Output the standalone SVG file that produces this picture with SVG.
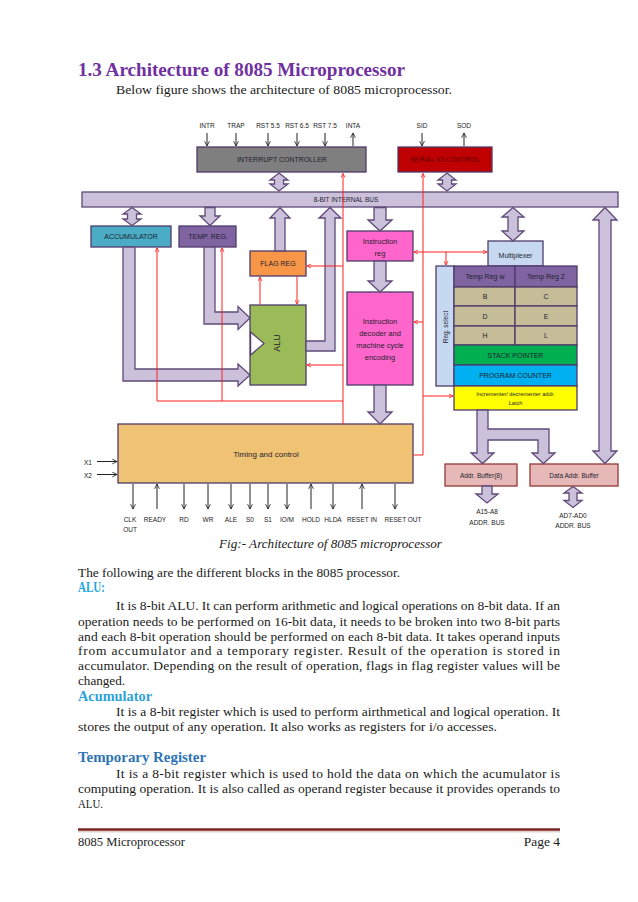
<svg xmlns="http://www.w3.org/2000/svg" width="638" height="902" viewBox="0 0 638 902">
<style>
.box{stroke:#4f3b6b;stroke-width:1.3}
.lbl{font-family:"Liberation Sans",Arial,sans-serif;font-size:7px;fill:#1e1e2e;text-anchor:middle}
.pin{font-family:"Liberation Sans",Arial,sans-serif;font-size:6.5px;fill:#222;text-anchor:middle}
.fat{fill:#ccc1da;stroke:#5f497a;stroke-width:1.3;stroke-linejoin:miter}
.red{fill:none;stroke:#ff2020;stroke-width:1}
.blk{fill:none;stroke:#222;stroke-width:1}
.body{font-family:"Liberation Serif","Times New Roman",serif;font-size:13.5px;fill:#1a1a1a}
.head{font-family:"Liberation Serif","Times New Roman",serif;font-size:14.5px;font-weight:bold}
</style>
<defs>
<marker id="ra" viewBox="0 0 10 10" refX="9" refY="5" markerWidth="5" markerHeight="5" orient="auto-start-reverse"><path d="M1,1 L9,5 L1,9" fill="none" stroke="#ff2020" stroke-width="1.6"/></marker>
<marker id="ba" viewBox="0 0 10 10" refX="9" refY="5" markerWidth="6" markerHeight="6" orient="auto-start-reverse"><path d="M1,1 L9,5 L1,9" fill="none" stroke="#222" stroke-width="1.4"/></marker>
</defs>
<rect width="638" height="902" fill="#ffffff"/>

<!-- Header text -->
<g id="title">
<text x="78" y="76" font-family="'Liberation Serif','Times New Roman',serif" font-size="19" font-weight="bold" fill="#7030a0" textLength="327" lengthAdjust="spacingAndGlyphs">1.3 Architecture of 8085 Microprocessor</text>
<text x="116" y="94" class="body" textLength="336" lengthAdjust="spacingAndGlyphs">Below figure shows the architecture of 8085 microprocessor.</text>
</g>

<!-- Nodes -->
<g id="interrupt-inputs">
<text x="207" y="127.5" class="pin">INTR</text>
<text x="236" y="127.5" class="pin">TRAP</text>
<text x="268" y="127.5" class="pin">RST 5.5</text>
<text x="297" y="127.5" class="pin">RST 6.5</text>
<text x="325" y="127.5" class="pin">RST 7.5</text>
<text x="353" y="127.5" class="pin">INTA</text>
<text x="422" y="127.5" class="pin">SID</text>
<text x="464" y="127.5" class="pin">SOD</text>
</g>
<g id="interrupt-controller">
<rect x="197" y="147" width="169" height="25" fill="#7f7f7f" class="box"/>
<text x="282" y="162" class="lbl">INTERRUPT CONTROLLER</text>
</g>
<g id="serial-io">
<rect x="398" y="147" width="94" height="25" fill="#c00000" class="box"/>
<text x="445" y="162" class="lbl" style="fill:#5a0000">SERIAL IO CONTROL</text>
</g>
<g id="internal-bus">
<rect x="82" y="192" width="536" height="15" fill="#ccc1da" stroke="#5f497a" stroke-width="1.3"/>
<text x="346" y="202" class="lbl" style="font-size:6.5px">8-BIT INTERNAL BUS</text>
</g>
<g id="accumulator">
<rect x="91" y="226" width="80" height="21" fill="#4bacc6" class="box"/>
<text x="131" y="239" class="lbl">ACCUMULATOR</text>
</g>
<g id="temp-reg">
<rect x="179" y="226" width="57" height="21" fill="#8064a2" class="box"/>
<text x="208" y="239" class="lbl">TEMP. REG.</text>
</g>
<g id="flag-reg">
<rect x="250" y="251" width="56" height="25" fill="#f79646" class="box"/>
<text x="278" y="266" class="lbl">FLAG REG</text>
</g>
<g id="alu">
<rect x="250" y="305" width="56" height="80" fill="#9bbb59" class="box"/>
<path d="M250.6,332 L264,343.5 L250.6,355 Z" fill="#ffffff" stroke="#4f3b6b" stroke-width="1.2"/>
<text x="0" y="0" class="lbl" transform="translate(280,343) rotate(-90)" style="font-size:9px">ALU</text>
</g>
<g id="instruction-reg">
<rect x="347" y="231" width="66" height="30" fill="#ff66cc" class="box"/>
<text x="380" y="244" class="lbl" style="font-size:7.5px">Instruction</text>
<text x="380" y="256" class="lbl" style="font-size:7.5px">reg</text>
</g>
<g id="instruction-decoder">
<rect x="347" y="292" width="66" height="93" fill="#ff66cc" class="box"/>
<text x="380" y="323.5" class="lbl" style="font-size:7.5px">Instruction</text>
<text x="380" y="335.5" class="lbl" style="font-size:7.5px">decoder and</text>
<text x="380" y="347.5" class="lbl" style="font-size:7.5px">machine cycle</text>
<text x="380" y="359.5" class="lbl" style="font-size:7.5px">encoding</text>
</g>
<g id="multiplexer">
<rect x="488" y="241" width="55" height="25" fill="#c6d9f1" class="box"/>
<text x="515.5" y="257.5" class="lbl">Multiplexer</text>
</g>
<g id="register-array">
<rect x="436" y="266" width="18" height="120" fill="#c6d9f1" class="box"/>
<text x="0" y="0" class="lbl" transform="translate(447.5,327) rotate(-90)" style="font-size:6.5px">Reg. select</text>
<rect x="454" y="266" width="61" height="21" fill="#8064a2" class="box"/>
<rect x="515" y="266" width="62" height="21" fill="#8064a2" class="box"/>
<text x="485" y="279" class="lbl">Temp Reg w</text>
<text x="546" y="279" class="lbl">Temp Reg Z</text>
<rect x="454" y="287" width="61" height="19" fill="#c4bd97" class="box"/>
<rect x="515" y="287" width="62" height="19" fill="#c4bd97" class="box"/>
<text x="485" y="299" class="lbl">B</text>
<text x="546" y="299" class="lbl">C</text>
<rect x="454" y="306" width="61" height="20" fill="#c4bd97" class="box"/>
<rect x="515" y="306" width="62" height="20" fill="#c4bd97" class="box"/>
<text x="485" y="318.5" class="lbl">D</text>
<text x="546" y="318.5" class="lbl">E</text>
<rect x="454" y="326" width="61" height="19" fill="#c4bd97" class="box"/>
<rect x="515" y="326" width="62" height="19" fill="#c4bd97" class="box"/>
<text x="485" y="338" class="lbl">H</text>
<text x="546" y="338" class="lbl">L</text>
<rect x="454" y="345" width="123" height="20" fill="#00b050" class="box"/>
<text x="515.5" y="358" class="lbl">STACK POINTER</text>
<rect x="454" y="365" width="123" height="21" fill="#00b0f0" class="box"/>
<text x="515.5" y="378" class="lbl">PROGRAM COUNTER</text>
<rect x="454" y="386" width="123" height="24" fill="#ffff00" class="box"/>
<text x="515.5" y="395.5" class="lbl" style="font-size:5.6px">Incrementer/ decrementer addr.</text>
<text x="515.5" y="405" class="lbl" style="font-size:5.6px">Latch</text>
</g>
<g id="timing-control">
<rect x="118" y="424" width="295" height="59" fill="#f0c374" class="box"/>
<text x="266" y="457" class="lbl" style="font-size:8px">Timing and control</text>
</g>
<g id="addr-buffer">
<rect x="445" y="464" width="72" height="22" fill="#e6b9b8" stroke="#953735" stroke-width="1.3"/>
<text x="481" y="477.5" class="lbl" style="font-size:6.5px">Addr. Buffer(8)</text>
</g>
<g id="data-addr-buffer">
<rect x="530" y="464" width="88" height="22" fill="#e6b9b8" stroke="#953735" stroke-width="1.3"/>
<text x="574" y="477.5" class="lbl" style="font-size:6.5px">Data Addr. Buffer</text>
</g>
<g id="bus-labels">
<text x="487" y="514" class="pin">A15-A8</text>
<text x="487" y="524.5" class="pin">ADDR. BUS</text>
<text x="573" y="517.5" class="pin">AD7-AD0</text>
<text x="573" y="527.5" class="pin">ADDR. BUS</text>
</g>
<g id="pin-labels">
<text x="88" y="464.5" class="pin">X1</text>
<text x="88" y="477.5" class="pin">X2</text>
<text x="130" y="521.5" class="pin">CLK</text>
<text x="130" y="531.5" class="pin">OUT</text>
<text x="155" y="521.5" class="pin">READY</text>
<text x="184" y="521.5" class="pin">RD</text>
<text x="208" y="521.5" class="pin">WR</text>
<text x="231" y="521.5" class="pin">ALE</text>
<text x="250" y="521.5" class="pin">S0</text>
<text x="268" y="521.5" class="pin">S1</text>
<text x="287" y="521.5" class="pin">IO/M</text>
<text x="311" y="521.5" class="pin">HOLD</text>
<text x="333" y="521.5" class="pin">HLDA</text>
<text x="362" y="521.5" class="pin">RESET IN</text>
<text x="403" y="521.5" class="pin">RESET OUT</text>
</g>

<!-- Connectors -->
<g id="connectors">
<polygon class="fat" points="279,173 288,180 283.5,180 283.5,184 288,184 279,191 270,184 274.5,184 274.5,180 270,180"/>
<polygon class="fat" points="447,173 456,180 451.5,180 451.5,184 456,184 447,191 438,184 442.5,184 442.5,180 438,180"/>
<polygon class="fat" points="132,207.5 141,214 136.5,214 136.5,219 141,219 132,225.5 123,219 127.5,219 127.5,214 123,214"/>
<polygon class="fat" points="205,207.5 215,207.5 215,216 220,216 210,225.5 200,216 205,216"/>
<polygon class="fat" points="275,251 285,251 285,218 290,218 280,207.5 270,218 275,218"/>
<polygon class="fat" points="306,341 325,341 325,218 319,218 330,207.5 341,218 335,218 335,351 306,351"/>
<polygon class="fat" points="123,247 135,247 135,369 238,369 238,364 250,375 238,386 238,381 123,381"/>
<polygon class="fat" points="204,247 215,247 215,312 238,312 238,306.5 250,318 238,329.5 238,324 204,324"/>
<polygon class="fat" points="374,207.5 386,207.5 386,220 392,220 380,231 368,220 374,220"/>
<polygon class="fat" points="374,261 386,261 386,281 392,281 380,292 368,281 374,281"/>
<polygon class="fat" points="374,385 386,385 386,412 392,412 380,424 368,412 374,412"/>
<polygon class="fat" points="513,207.5 524,217 518,217 518,231 524,231 513,241 502,231 508,231 508,217 502,217"/>
<polygon class="fat" points="605,207.5 617,220 611,220 611,451 617,451 605,463.5 593,451 599,451 599,220 593,220"/>
<polygon class="fat" points="477,410 488,410 488,429 549,429 549,453 555,453 543.5,463.5 532,453 538,453 538,440 488,440 488,453 494,453 482.5,463.5 471,453 477,453"/>
<polygon class="fat" points="482,486 492,486 492,494 498,494 487,503 476,494 482,494"/>
<polygon class="fat" points="573,486.5 582,493 577,493 577,500.5 582,500.5 573,507.5 564,500.5 569,500.5 569,493 564,493"/>
<path class="red" d="M343,424 V173.5" marker-end="url(#ra)"/>
<path class="red" d="M413.5,455 H423 V173.5" marker-end="url(#ra)"/>
<path class="red" d="M343,266 H307" marker-end="url(#ra)"/>
<path class="red" d="M343,365 H307" marker-end="url(#ra)"/>
<path class="red" d="M157,401 H343"/>
<path class="red" d="M157,401 V248" marker-end="url(#ra)"/>
<path class="red" d="M222,401 V248" marker-end="url(#ra)"/>
<path class="red" d="M260,304.5 V277" marker-end="url(#ra)"/>
<path class="red" d="M297,276.5 V304" marker-end="url(#ra)"/>
<path class="red" d="M414,252 H487" marker-start="url(#ra)" marker-end="url(#ra)"/>
<path class="red" d="M446,252 V265" marker-end="url(#ra)"/>
<path class="red" d="M423,322 H414" marker-end="url(#ra)"/>
<path class="red" d="M423,396 H453" marker-end="url(#ra)"/>
<path class="blk" d="M207,133 V146" marker-end="url(#ba)"/>
<path class="blk" d="M236,133 V146" marker-end="url(#ba)"/>
<path class="blk" d="M268,133 V146" marker-end="url(#ba)"/>
<path class="blk" d="M297,133 V146" marker-end="url(#ba)"/>
<path class="blk" d="M325,133 V146" marker-end="url(#ba)"/>
<path class="blk" d="M353,146 V133" marker-end="url(#ba)"/>
<path class="blk" d="M422,133 V146" marker-end="url(#ba)"/>
<path class="blk" d="M464,146 V133" marker-end="url(#ba)"/>
<path class="blk" d="M97,461.5 H117" marker-end="url(#ba)"/>
<path class="blk" d="M97,474.5 H117" marker-end="url(#ba)"/>
<path class="blk" d="M133,484 V509" marker-end="url(#ba)"/>
<path class="blk" d="M157,509 V484" marker-end="url(#ba)"/>
<path class="blk" d="M184,484 V509" marker-end="url(#ba)"/>
<path class="blk" d="M208,484 V509" marker-end="url(#ba)"/>
<path class="blk" d="M231,484 V509" marker-end="url(#ba)"/>
<path class="blk" d="M250,484 V509" marker-end="url(#ba)"/>
<path class="blk" d="M268,484 V509" marker-end="url(#ba)"/>
<path class="blk" d="M287,484 V509" marker-end="url(#ba)"/>
<path class="blk" d="M311,509 V484" marker-end="url(#ba)"/>
<path class="blk" d="M333,484 V509" marker-end="url(#ba)"/>
<path class="blk" d="M362,509 V484" marker-end="url(#ba)"/>
<path class="blk" d="M395,484 V509" marker-end="url(#ba)"/>
</g>

<!-- Document text -->
<g id="document-text">
<text x="219" y="548" class="body" font-style="italic" textLength="223" lengthAdjust="spacingAndGlyphs">Fig:- Architecture of 8085 microprocessor</text>
<text x="78" y="577" class="body" textLength="322" lengthAdjust="spacingAndGlyphs">The following are the different blocks in the 8085 processor.</text>
<text x="78" y="592" class="head" fill="#1fa9e1" textLength="27" lengthAdjust="spacingAndGlyphs">ALU:</text>
<text x="116" y="610" class="body" textLength="444" lengthAdjust="spacing">It is 8-bit ALU. It can perform arithmetic and logical operations on 8-bit data. If an</text>
<text x="78" y="625.5" class="body" textLength="482" lengthAdjust="spacing">operation needs to be performed on 16-bit data, it needs to be broken into two 8-bit parts</text>
<text x="78" y="640.5" class="body" textLength="482" lengthAdjust="spacing">and each 8-bit operation should be performed on each 8-bit data.  It takes operand inputs</text>
<text x="78" y="655" class="body" textLength="482" lengthAdjust="spacing">from accumulator and a temporary register.  Result of the operation is stored in</text>
<text x="78" y="670" class="body" textLength="482" lengthAdjust="spacing">accumulator. Depending on the result of operation, flags in flag register values will be</text>
<text x="78" y="685" class="body" textLength="47" lengthAdjust="spacingAndGlyphs">changed.</text>
<text x="78" y="700.5" class="head" fill="#2ca2da" textLength="74" lengthAdjust="spacingAndGlyphs">Acumulator</text>
<text x="116" y="716" class="body" textLength="444" lengthAdjust="spacing">It is a 8-bit register which is used to perform airthmetical and logical operation. It</text>
<text x="78" y="731" class="body" textLength="419" lengthAdjust="spacingAndGlyphs">stores the output of any operation. It also works as registers for i/o accesses.</text>
<text x="78" y="762" class="head" fill="#2e74b5" textLength="128" lengthAdjust="spacingAndGlyphs">Temporary Register</text>
<text x="116" y="778" class="body" textLength="444" lengthAdjust="spacing">It is a 8-bit register which is used to hold the data on which the acumulator is</text>
<text x="78" y="793" class="body" textLength="482" lengthAdjust="spacing">computing operation. It is also called as operand register because it provides operands to</text>
<text x="78" y="808" class="body" textLength="25" lengthAdjust="spacingAndGlyphs">ALU.</text>
</g>
<g id="footer">
<line x1="78" y1="829.5" x2="560" y2="829.5" stroke="#7a2424" stroke-width="2.6"/>
<line x1="78" y1="831.8" x2="560" y2="831.8" stroke="#c9a0a0" stroke-width="0.8"/>
<text x="78" y="846" class="body" font-size="12.5" textLength="107" lengthAdjust="spacingAndGlyphs">8085 Microprocessor</text>
<text x="560" y="846" class="body" font-size="12.5" text-anchor="end">Page 4</text>
</g>
</svg>
